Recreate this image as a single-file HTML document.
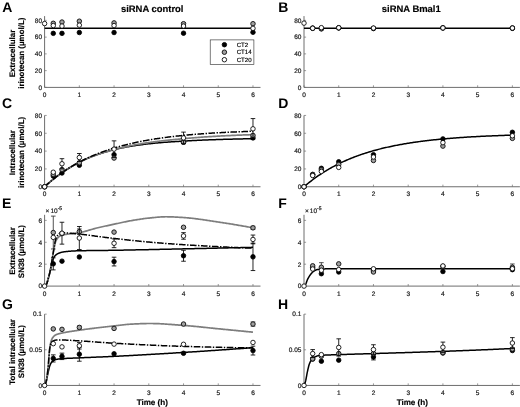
<!DOCTYPE html>
<html lang="en">
<head>
<meta charset="utf-8">
<title>Irinotecan pharmacokinetics figure</title>
<style>
html,body{margin:0;padding:0;background:#fff;}
body{width:520px;height:407px;overflow:hidden;}
svg{display:block;text-rendering:geometricPrecision;font-family:"Liberation Sans",sans-serif;}
.tk{font-size:6.5px;fill:#1a1a1a;stroke:#1a1a1a;stroke-width:0.2px;}
.lg{font-size:6.1px;fill:#000;stroke:#000;stroke-width:0.15px;}
.ti{font-size:9.45px;font-weight:bold;fill:#000;stroke:#000;stroke-width:0.15px;text-anchor:middle;}
.xl{font-size:8.1px;font-weight:bold;fill:#000;stroke:#000;stroke-width:0.15px;text-anchor:middle;}
.yl{font-size:7.95px;font-weight:bold;fill:#000;stroke:#000;stroke-width:0.15px;text-anchor:middle;}
.pl{font-size:14px;font-weight:bold;fill:#000;}
</style>
</head>
<body>
<svg width="520" height="407" viewBox="0 0 520 407">
<rect width="520" height="407" fill="#fff"/>
<path d="M44.6 16.1 V87.4 H260.5" fill="none" stroke="#6e6e6e" stroke-width="1"/>
<path d="M44.6 87.4v-2.1M79.33 87.4v-2.1M114.06 87.4v-2.1M148.79 87.4v-2.1M183.52 87.4v-2.1M218.25 87.4v-2.1M252.98 87.4v-2.1M44.6 87.4h2.1M44.6 70.64h2.1M44.6 53.89h2.1M44.6 37.13h2.1M44.6 20.37h2.1" fill="none" stroke="#6e6e6e" stroke-width="0.7"/>
<g class="tk" text-anchor="middle">
<text x="44.6" y="97">0</text>
<text x="79.33" y="97">1</text>
<text x="114.06" y="97">2</text>
<text x="148.79" y="97">3</text>
<text x="183.52" y="97">4</text>
<text x="218.25" y="97">5</text>
<text x="252.98" y="97">6</text>
</g>
<g class="tk" text-anchor="end">
<text x="42" y="89.7">0</text>
<text x="42" y="72.94">20</text>
<text x="42" y="56.19">40</text>
<text x="42" y="39.43">60</text>
<text x="42" y="22.67">80</text>
</g>
<polyline points="44.6,28.25 252.98,28.25" fill="none" stroke="#000" stroke-width="1.5" stroke-linejoin="round"/>
<g fill="#000" stroke="#000" stroke-width="0.85"><circle cx="53.28" cy="33.36" r="2.25"/><circle cx="61.97" cy="33.36" r="2.25"/><circle cx="79.33" cy="32.52" r="2.25"/><circle cx="114.06" cy="32.52" r="2.25"/><circle cx="183.52" cy="33.19" r="2.25"/><circle cx="252.98" cy="32.27" r="2.25"/></g>
<path d="M183.52 22.72V24.73M181.22 22.72h4.6M181.22 24.73h4.6" fill="none" stroke="#333" stroke-width="0.85"/>
<g fill="#a0a0a0" stroke="#1a1a1a" stroke-width="1"><circle cx="53.28" cy="23.31" r="2.25"/><circle cx="61.97" cy="22.05" r="2.25"/><circle cx="79.33" cy="21.21" r="2.25"/><circle cx="114.06" cy="22.89" r="2.25"/><circle cx="183.52" cy="23.72" r="2.25"/><circle cx="252.98" cy="23.72" r="2.25"/></g>
<path d="M183.52 24.81V27.33M181.22 24.81h4.6M181.22 27.33h4.6" fill="none" stroke="#000" stroke-width="0.85"/>
<g fill="#fff" stroke="#000" stroke-width="0.85"><circle cx="44.6" cy="23.56" r="2.25"/><circle cx="53.28" cy="25.57" r="2.25"/><circle cx="61.97" cy="26.07" r="2.25"/><circle cx="79.33" cy="25.15" r="2.25"/><circle cx="114.06" cy="25.57" r="2.25"/><circle cx="183.52" cy="26.07" r="2.25"/><circle cx="252.98" cy="28.33" r="2.25"/></g>
<path d="M304 16.1 V87.4 H519.9" fill="none" stroke="#6e6e6e" stroke-width="1"/>
<path d="M304 87.4v-2.1M338.73 87.4v-2.1M373.46 87.4v-2.1M408.19 87.4v-2.1M442.92 87.4v-2.1M477.65 87.4v-2.1M512.38 87.4v-2.1M304 87.4h2.1M304 70.64h2.1M304 53.89h2.1M304 37.13h2.1M304 20.37h2.1" fill="none" stroke="#6e6e6e" stroke-width="0.7"/>
<g class="tk" text-anchor="middle">
<text x="304" y="97">0</text>
<text x="338.73" y="97">1</text>
<text x="373.46" y="97">2</text>
<text x="408.19" y="97">3</text>
<text x="442.92" y="97">4</text>
<text x="477.65" y="97">5</text>
<text x="512.38" y="97">6</text>
</g>
<g class="tk" text-anchor="end">
<text x="301.4" y="89.7">0</text>
<text x="301.4" y="72.94">20</text>
<text x="301.4" y="56.19">40</text>
<text x="301.4" y="39.43">60</text>
<text x="301.4" y="22.67">80</text>
</g>
<polyline points="304,28.25 512.38,28.25" fill="none" stroke="#000" stroke-width="1.5" stroke-linejoin="round"/>
<g fill="#000" stroke="#000" stroke-width="0.85"><circle cx="312.68" cy="28.33" r="2.25"/><circle cx="321.37" cy="28.75" r="2.25"/><circle cx="338.73" cy="27.91" r="2.25"/><circle cx="373.46" cy="28.33" r="2.25"/><circle cx="442.92" cy="27.91" r="2.25"/><circle cx="512.38" cy="28.33" r="2.25"/></g>
<path d="M512.38 26.91V28.92M510.08 26.91h4.6M510.08 28.92h4.6" fill="none" stroke="#333" stroke-width="0.85"/>
<g fill="#a0a0a0" stroke="#1a1a1a" stroke-width="1"><circle cx="312.68" cy="28.08" r="2.25"/><circle cx="321.37" cy="28.75" r="2.25"/><circle cx="338.73" cy="27.75" r="2.25"/><circle cx="373.46" cy="28.5" r="2.25"/><circle cx="442.92" cy="27.91" r="2.25"/><circle cx="512.38" cy="27.91" r="2.25"/></g>
<path d="M512.38 26.82V29.34M510.08 26.82h4.6M510.08 29.34h4.6" fill="none" stroke="#000" stroke-width="0.85"/>
<g fill="#fff" stroke="#000" stroke-width="0.85"><circle cx="304" cy="23.14" r="2.25"/><circle cx="312.68" cy="28.25" r="2.25"/><circle cx="321.37" cy="27.66" r="2.25"/><circle cx="338.73" cy="27.75" r="2.25"/><circle cx="373.46" cy="28.08" r="2.25"/><circle cx="442.92" cy="27.91" r="2.25"/><circle cx="512.38" cy="28.08" r="2.25"/></g>
<path d="M44.6 115.45 V186.75 H260.5" fill="none" stroke="#6e6e6e" stroke-width="1"/>
<path d="M44.6 186.75v-2.1M79.33 186.75v-2.1M114.06 186.75v-2.1M148.79 186.75v-2.1M183.52 186.75v-2.1M218.25 186.75v-2.1M252.98 186.75v-2.1M44.6 186.75h2.1M44.6 168.93h2.1M44.6 151.1h2.1M44.6 133.27h2.1M44.6 115.45h2.1" fill="none" stroke="#6e6e6e" stroke-width="0.7"/>
<g class="tk" text-anchor="middle">
<text x="44.6" y="196.35">0</text>
<text x="79.33" y="196.35">1</text>
<text x="114.06" y="196.35">2</text>
<text x="148.79" y="196.35">3</text>
<text x="183.52" y="196.35">4</text>
<text x="218.25" y="196.35">5</text>
<text x="252.98" y="196.35">6</text>
</g>
<g class="tk" text-anchor="end">
<text x="42" y="189.05">0</text>
<text x="42" y="171.23">20</text>
<text x="42" y="153.4">40</text>
<text x="42" y="135.57">60</text>
<text x="42" y="117.75">80</text>
</g>
<polyline points="44.6,186.75 45.65,185.79 46.69,184.84 47.74,183.91 48.79,183 49.84,182.1 50.88,181.22 51.93,180.35 52.98,179.5 54.02,178.66 55.07,177.84 56.12,177.03 57.17,176.23 58.21,175.45 59.26,174.68 60.31,173.93 61.35,173.19 62.4,172.46 63.45,171.74 64.5,171.04 65.54,170.35 66.59,169.67 67.64,169 68.68,168.34 69.73,167.7 70.78,167.06 71.83,166.44 72.87,165.83 73.92,165.23 74.97,164.63 76.01,164.05 77.06,163.48 78.11,162.92 79.16,162.37 80.2,161.83 81.25,161.3 82.3,160.79 83.34,160.28 84.39,159.79 85.44,159.32 86.49,158.85 87.53,158.39 88.58,157.95 89.63,157.51 90.67,157.09 91.72,156.67 92.77,156.27 93.82,155.88 94.86,155.49 95.91,155.11 96.96,154.74 98,154.38 99.05,154.03 100.1,153.69 101.15,153.35 102.19,153.02 103.24,152.7 104.29,152.38 105.33,152.07 106.38,151.77 107.43,151.47 108.48,151.18 109.52,150.9 110.57,150.62 111.62,150.34 112.66,150.07 113.71,149.8 114.76,149.54 115.81,149.28 116.85,149.04 117.9,148.79 118.95,148.56 119.99,148.33 121.04,148.11 122.09,147.89 123.14,147.67 124.18,147.47 125.23,147.27 126.28,147.07 127.32,146.88 128.37,146.69 129.42,146.51 130.47,146.33 131.51,146.16 132.56,145.99 133.61,145.83 134.65,145.67 135.7,145.51 136.75,145.36 137.8,145.21 138.84,145.06 139.89,144.92 140.94,144.78 141.98,144.64 143.03,144.51 144.08,144.37 145.13,144.25 146.17,144.12 147.22,143.99 148.27,143.87 149.31,143.75 150.36,143.63 151.41,143.52 152.45,143.41 153.5,143.3 154.55,143.2 155.6,143.1 156.64,143 157.69,142.9 158.74,142.81 159.78,142.72 160.83,142.63 161.88,142.54 162.93,142.46 163.97,142.37 165.02,142.29 166.07,142.22 167.11,142.14 168.16,142.06 169.21,141.99 170.26,141.92 171.3,141.85 172.35,141.78 173.4,141.71 174.44,141.64 175.49,141.58 176.54,141.51 177.59,141.45 178.63,141.38 179.68,141.32 180.73,141.26 181.77,141.19 182.82,141.13 183.87,141.07 184.92,141.01 185.96,140.95 187.01,140.89 188.06,140.83 189.1,140.77 190.15,140.72 191.2,140.66 192.25,140.61 193.29,140.56 194.34,140.5 195.39,140.45 196.43,140.4 197.48,140.35 198.53,140.31 199.58,140.26 200.62,140.21 201.67,140.17 202.72,140.12 203.76,140.08 204.81,140.03 205.86,139.99 206.91,139.95 207.95,139.91 209,139.87 210.05,139.83 211.09,139.79 212.14,139.75 213.19,139.71 214.24,139.67 215.28,139.64 216.33,139.6 217.38,139.56 218.42,139.53 219.47,139.49 220.52,139.46 221.57,139.43 222.61,139.39 223.66,139.36 224.71,139.33 225.75,139.3 226.8,139.27 227.85,139.24 228.9,139.21 229.94,139.18 230.99,139.16 232.04,139.13 233.08,139.1 234.13,139.08 235.18,139.05 236.23,139.03 237.27,139 238.32,138.98 239.37,138.95 240.41,138.93 241.46,138.9 242.51,138.88 243.56,138.86 244.6,138.84 245.65,138.81 246.7,138.79 247.74,138.77 248.79,138.75 249.84,138.72 250.89,138.7 251.93,138.68 252.98,138.66" fill="none" stroke="#000" stroke-width="1.5" stroke-linejoin="round"/>
<polyline points="44.6,186.75 45.65,185.79 46.69,184.84 47.74,183.91 48.79,183 49.84,182.1 50.88,181.22 51.93,180.35 52.98,179.5 54.02,178.66 55.07,177.83 56.12,177.02 57.17,176.23 58.21,175.44 59.26,174.67 60.31,173.92 61.35,173.18 62.4,172.44 63.45,171.73 64.5,171.02 65.54,170.33 66.59,169.65 67.64,168.98 68.68,168.32 69.73,167.67 70.78,167.03 71.83,166.41 72.87,165.8 73.92,165.19 74.97,164.6 76.01,164.02 77.06,163.44 78.11,162.88 79.16,162.33 80.2,161.78 81.25,161.25 82.3,160.74 83.34,160.24 84.39,159.74 85.44,159.27 86.49,158.8 87.53,158.34 88.58,157.9 89.63,157.46 90.67,157.04 91.72,156.63 92.77,156.22 93.82,155.83 94.86,155.44 95.91,155.06 96.96,154.69 98,154.33 99.05,153.98 100.1,153.63 101.15,153.29 102.19,152.96 103.24,152.63 104.29,152.31 105.33,151.99 106.38,151.68 107.43,151.38 108.48,151.08 109.52,150.78 110.57,150.49 111.62,150.2 112.66,149.91 113.71,149.63 114.76,149.35 115.81,149.08 116.85,148.81 117.9,148.54 118.95,148.28 119.99,148.03 121.04,147.78 122.09,147.53 123.14,147.29 124.18,147.06 125.23,146.82 126.28,146.6 127.32,146.37 128.37,146.15 129.42,145.94 130.47,145.72 131.51,145.52 132.56,145.31 133.61,145.11 134.65,144.91 135.7,144.72 136.75,144.53 137.8,144.34 138.84,144.16 139.89,143.98 140.94,143.8 141.98,143.63 143.03,143.46 144.08,143.29 145.13,143.12 146.17,142.96 147.22,142.8 148.27,142.64 149.31,142.49 150.36,142.33 151.41,142.19 152.45,142.04 153.5,141.9 154.55,141.76 155.6,141.63 156.64,141.49 157.69,141.36 158.74,141.24 159.78,141.11 160.83,140.99 161.88,140.87 162.93,140.75 163.97,140.63 165.02,140.52 166.07,140.41 167.11,140.3 168.16,140.19 169.21,140.08 170.26,139.97 171.3,139.87 172.35,139.76 173.4,139.66 174.44,139.56 175.49,139.45 176.54,139.35 177.59,139.25 178.63,139.15 179.68,139.05 180.73,138.95 181.77,138.85 182.82,138.75 183.87,138.65 184.92,138.55 185.96,138.45 187.01,138.36 188.06,138.26 189.1,138.17 190.15,138.08 191.2,137.99 192.25,137.9 193.29,137.81 194.34,137.73 195.39,137.64 196.43,137.56 197.48,137.48 198.53,137.4 199.58,137.32 200.62,137.25 201.67,137.17 202.72,137.1 203.76,137.02 204.81,136.95 205.86,136.88 206.91,136.81 207.95,136.74 209,136.67 210.05,136.61 211.09,136.54 212.14,136.48 213.19,136.42 214.24,136.35 215.28,136.29 216.33,136.23 217.38,136.17 218.42,136.12 219.47,136.06 220.52,136 221.57,135.95 222.61,135.89 223.66,135.84 224.71,135.79 225.75,135.74 226.8,135.68 227.85,135.63 228.9,135.59 229.94,135.54 230.99,135.49 232.04,135.44 233.08,135.4 234.13,135.35 235.18,135.31 236.23,135.26 237.27,135.22 238.32,135.18 239.37,135.13 240.41,135.09 241.46,135.05 242.51,135.01 243.56,134.97 244.6,134.94 245.65,134.9 246.7,134.86 247.74,134.82 248.79,134.79 249.84,134.75 250.89,134.72 251.93,134.68 252.98,134.65" fill="none" stroke="#7d7d7d" stroke-width="1.7" stroke-linejoin="round"/>
<polyline points="44.6,186.75 45.65,185.79 46.69,184.84 47.74,183.91 48.79,183 49.84,182.1 50.88,181.21 51.93,180.34 52.98,179.49 54.02,178.65 55.07,177.82 56.12,177.01 57.17,176.21 58.21,175.42 59.26,174.65 60.31,173.89 61.35,173.14 62.4,172.41 63.45,171.68 64.5,170.97 65.54,170.28 66.59,169.59 67.64,168.91 68.68,168.25 69.73,167.6 70.78,166.96 71.83,166.32 72.87,165.7 73.92,165.09 74.97,164.49 76.01,163.9 77.06,163.32 78.11,162.75 79.16,162.19 80.2,161.64 81.25,161.1 82.3,160.57 83.34,160.04 84.39,159.53 85.44,159.02 86.49,158.52 87.53,158.03 88.58,157.55 89.63,157.08 90.67,156.61 91.72,156.15 92.77,155.7 93.82,155.26 94.86,154.83 95.91,154.4 96.96,153.98 98,153.56 99.05,153.16 100.1,152.76 101.15,152.36 102.19,151.98 103.24,151.6 104.29,151.22 105.33,150.85 106.38,150.49 107.43,150.14 108.48,149.79 109.52,149.44 110.57,149.11 111.62,148.77 112.66,148.45 113.71,148.13 114.76,147.81 115.81,147.5 116.85,147.19 117.9,146.89 118.95,146.6 119.99,146.31 121.04,146.02 122.09,145.74 123.14,145.47 124.18,145.2 125.23,144.93 126.28,144.67 127.32,144.41 128.37,144.16 129.42,143.91 130.47,143.66 131.51,143.42 132.56,143.18 133.61,142.95 134.65,142.72 135.7,142.5 136.75,142.27 137.8,142.06 138.84,141.84 139.89,141.63 140.94,141.42 141.98,141.22 143.03,141.02 144.08,140.82 145.13,140.63 146.17,140.44 147.22,140.25 148.27,140.07 149.31,139.89 150.36,139.71 151.41,139.54 152.45,139.36 153.5,139.19 154.55,139.03 155.6,138.86 156.64,138.7 157.69,138.55 158.74,138.39 159.78,138.24 160.83,138.09 161.88,137.94 162.93,137.79 163.97,137.65 165.02,137.51 166.07,137.37 167.11,137.24 168.16,137.1 169.21,136.97 170.26,136.84 171.3,136.72 172.35,136.59 173.4,136.47 174.44,136.35 175.49,136.23 176.54,136.11 177.59,136 178.63,135.89 179.68,135.78 180.73,135.67 181.77,135.56 182.82,135.45 183.87,135.35 184.92,135.25 185.96,135.15 187.01,135.05 188.06,134.95 189.1,134.86 190.15,134.76 191.2,134.67 192.25,134.58 193.29,134.49 194.34,134.4 195.39,134.32 196.43,134.23 197.48,134.15 198.53,134.07 199.58,133.99 200.62,133.91 201.67,133.83 202.72,133.75 203.76,133.68 204.81,133.61 205.86,133.53 206.91,133.46 207.95,133.39 209,133.32 210.05,133.25 211.09,133.19 212.14,133.12 213.19,133.06 214.24,132.99 215.28,132.93 216.33,132.87 217.38,132.81 218.42,132.75 219.47,132.69 220.52,132.63 221.57,132.58 222.61,132.52 223.66,132.47 224.71,132.41 225.75,132.36 226.8,132.31 227.85,132.26 228.9,132.21 229.94,132.16 230.99,132.11 232.04,132.06 233.08,132.02 234.13,131.97 235.18,131.93 236.23,131.88 237.27,131.84 238.32,131.79 239.37,131.75 240.41,131.71 241.46,131.67 242.51,131.63 243.56,131.59 244.6,131.55 245.65,131.51 246.7,131.47 247.74,131.44 248.79,131.4 249.84,131.36 250.89,131.33 251.93,131.3 252.98,131.26" fill="none" stroke="#000" stroke-width="1.5" stroke-linejoin="round" stroke-dasharray="6.6 1.5 1.4 1.5"/>
<g fill="#000" stroke="#000" stroke-width="0.85"><circle cx="44.6" cy="186.75" r="2.25"/><circle cx="53.28" cy="175.97" r="2.25"/><circle cx="61.97" cy="173.02" r="2.25"/><circle cx="79.33" cy="165.27" r="2.25"/><circle cx="114.06" cy="154.66" r="2.25"/><circle cx="183.52" cy="142.19" r="2.25"/><circle cx="252.98" cy="137.91" r="2.25"/></g>
<g fill="#a0a0a0" stroke="#1a1a1a" stroke-width="1"><circle cx="44.6" cy="186.75" r="2.25"/><circle cx="53.28" cy="174.45" r="2.25"/><circle cx="61.97" cy="169.55" r="2.25"/><circle cx="79.33" cy="162.78" r="2.25"/><circle cx="114.06" cy="158.05" r="2.25"/><circle cx="183.52" cy="142.19" r="2.25"/><circle cx="252.98" cy="135.41" r="2.25"/></g>
<path d="M61.97 158.68V168.84M59.67 158.68h4.6M59.67 168.84h4.6M79.33 153.51V161.53M77.03 153.51h4.6M77.03 161.53h4.6M114.06 140.85V157.43M111.76 140.85h4.6M111.76 157.43h4.6M183.52 132.12V143.7M181.22 132.12h4.6M181.22 143.7h4.6M252.98 118.57V139.07M250.68 118.57h4.6M250.68 139.07h4.6" fill="none" stroke="#000" stroke-width="0.85"/>
<g fill="#fff" stroke="#000" stroke-width="0.85"><circle cx="44.6" cy="186.75" r="2.25"/><circle cx="53.28" cy="172.22" r="2.25"/><circle cx="61.97" cy="163.76" r="2.25"/><circle cx="79.33" cy="157.52" r="2.25"/><circle cx="114.06" cy="149.14" r="2.25"/><circle cx="183.52" cy="137.91" r="2.25"/><circle cx="252.98" cy="128.82" r="2.25"/></g>
<path d="M304 115.45 V186.75 H519.9" fill="none" stroke="#6e6e6e" stroke-width="1"/>
<path d="M304 186.75v-2.1M338.73 186.75v-2.1M373.46 186.75v-2.1M408.19 186.75v-2.1M442.92 186.75v-2.1M477.65 186.75v-2.1M512.38 186.75v-2.1M304 186.75h2.1M304 168.93h2.1M304 151.1h2.1M304 133.27h2.1M304 115.45h2.1" fill="none" stroke="#6e6e6e" stroke-width="0.7"/>
<g class="tk" text-anchor="middle">
<text x="304" y="196.35">0</text>
<text x="338.73" y="196.35">1</text>
<text x="373.46" y="196.35">2</text>
<text x="408.19" y="196.35">3</text>
<text x="442.92" y="196.35">4</text>
<text x="477.65" y="196.35">5</text>
<text x="512.38" y="196.35">6</text>
</g>
<g class="tk" text-anchor="end">
<text x="301.4" y="189.05">0</text>
<text x="301.4" y="171.23">20</text>
<text x="301.4" y="153.4">40</text>
<text x="301.4" y="135.57">60</text>
<text x="301.4" y="117.75">80</text>
</g>
<polyline points="304,186.75 305.05,185.85 306.09,184.97 307.14,184.11 308.19,183.26 309.24,182.42 310.28,181.6 311.33,180.79 312.38,179.99 313.42,179.21 314.47,178.44 315.52,177.69 316.57,176.94 317.61,176.21 318.66,175.49 319.71,174.79 320.75,174.09 321.8,173.41 322.85,172.74 323.9,172.07 324.94,171.43 325.99,170.79 327.04,170.16 328.08,169.54 329.13,168.93 330.18,168.34 331.23,167.75 332.27,167.17 333.32,166.6 334.37,166.05 335.41,165.5 336.46,164.96 337.51,164.43 338.56,163.91 339.6,163.39 340.65,162.89 341.7,162.39 342.74,161.91 343.79,161.43 344.84,160.96 345.89,160.49 346.93,160.04 347.98,159.59 349.03,159.15 350.07,158.71 351.12,158.29 352.17,157.87 353.22,157.46 354.26,157.05 355.31,156.65 356.36,156.26 357.4,155.88 358.45,155.5 359.5,155.13 360.55,154.76 361.59,154.4 362.64,154.05 363.69,153.7 364.73,153.36 365.78,153.02 366.83,152.69 367.88,152.37 368.92,152.05 369.97,151.73 371.02,151.42 372.06,151.12 373.11,150.82 374.16,150.53 375.21,150.24 376.25,149.95 377.3,149.68 378.35,149.4 379.39,149.13 380.44,148.87 381.49,148.6 382.54,148.35 383.58,148.1 384.63,147.85 385.68,147.6 386.72,147.36 387.77,147.13 388.82,146.9 389.87,146.67 390.91,146.44 391.96,146.22 393.01,146.01 394.05,145.79 395.1,145.58 396.15,145.38 397.2,145.17 398.24,144.98 399.29,144.78 400.34,144.59 401.38,144.4 402.43,144.21 403.48,144.03 404.53,143.85 405.57,143.67 406.62,143.5 407.67,143.33 408.71,143.16 409.76,142.99 410.81,142.83 411.85,142.67 412.9,142.51 413.95,142.36 415,142.21 416.04,142.06 417.09,141.91 418.14,141.76 419.18,141.62 420.23,141.48 421.28,141.35 422.33,141.21 423.37,141.08 424.42,140.95 425.47,140.82 426.51,140.69 427.56,140.57 428.61,140.45 429.66,140.33 430.7,140.21 431.75,140.09 432.8,139.98 433.84,139.86 434.89,139.75 435.94,139.65 436.99,139.54 438.03,139.43 439.08,139.33 440.13,139.23 441.17,139.13 442.22,139.03 443.27,138.94 444.32,138.84 445.36,138.75 446.41,138.66 447.46,138.57 448.5,138.48 449.55,138.39 450.6,138.3 451.65,138.22 452.69,138.14 453.74,138.06 454.79,137.98 455.83,137.9 456.88,137.82 457.93,137.74 458.98,137.67 460.02,137.6 461.07,137.52 462.12,137.45 463.16,137.38 464.21,137.31 465.26,137.25 466.31,137.18 467.35,137.11 468.4,137.05 469.45,136.99 470.49,136.92 471.54,136.86 472.59,136.8 473.64,136.74 474.68,136.69 475.73,136.63 476.78,136.57 477.82,136.52 478.87,136.46 479.92,136.41 480.97,136.36 482.01,136.31 483.06,136.26 484.11,136.21 485.15,136.16 486.2,136.11 487.25,136.06 488.3,136.01 489.34,135.97 490.39,135.92 491.44,135.88 492.48,135.84 493.53,135.79 494.58,135.75 495.63,135.71 496.67,135.67 497.72,135.63 498.77,135.59 499.81,135.55 500.86,135.51 501.91,135.47 502.96,135.44 504,135.4 505.05,135.37 506.1,135.33 507.14,135.3 508.19,135.26 509.24,135.23 510.29,135.2 511.33,135.16 512.38,135.13" fill="none" stroke="#000" stroke-width="1.5" stroke-linejoin="round"/>
<g fill="#000" stroke="#000" stroke-width="0.85"><circle cx="304" cy="186.75" r="2.25"/><circle cx="312.68" cy="174.36" r="2.25"/><circle cx="321.37" cy="168.3" r="2.25"/><circle cx="338.73" cy="161.79" r="2.25"/><circle cx="373.46" cy="154.75" r="2.25"/><circle cx="442.92" cy="138.89" r="2.25"/><circle cx="512.38" cy="132.29" r="2.25"/></g>
<g fill="#a0a0a0" stroke="#1a1a1a" stroke-width="1"><circle cx="304" cy="186.75" r="2.25"/><circle cx="312.68" cy="174.72" r="2.25"/><circle cx="321.37" cy="169.82" r="2.25"/><circle cx="338.73" cy="164.47" r="2.25"/><circle cx="373.46" cy="160.46" r="2.25"/><circle cx="442.92" cy="146.11" r="2.25"/><circle cx="512.38" cy="138.36" r="2.25"/></g>
<g fill="#fff" stroke="#000" stroke-width="0.85"><circle cx="304" cy="186.75" r="2.25"/><circle cx="312.68" cy="175.52" r="2.25"/><circle cx="321.37" cy="171.42" r="2.25"/><circle cx="338.73" cy="167.41" r="2.25"/><circle cx="373.46" cy="156.98" r="2.25"/><circle cx="442.92" cy="142.63" r="2.25"/><circle cx="512.38" cy="135.77" r="2.25"/></g>
<path d="M44.6 214.8 V286.1 H260.5" fill="none" stroke="#6e6e6e" stroke-width="1"/>
<path d="M44.6 286.1v-2.1M79.33 286.1v-2.1M114.06 286.1v-2.1M148.79 286.1v-2.1M183.52 286.1v-2.1M218.25 286.1v-2.1M252.98 286.1v-2.1M44.6 286.1h2.1M44.6 264.2h2.1M44.6 242.29h2.1M44.6 220.39h2.1" fill="none" stroke="#6e6e6e" stroke-width="0.7"/>
<g class="tk" text-anchor="middle">
<text x="44.6" y="295.7">0</text>
<text x="79.33" y="295.7">1</text>
<text x="114.06" y="295.7">2</text>
<text x="148.79" y="295.7">3</text>
<text x="183.52" y="295.7">4</text>
<text x="218.25" y="295.7">5</text>
<text x="252.98" y="295.7">6</text>
</g>
<g class="tk" text-anchor="end">
<text x="42" y="288.4">0</text>
<text x="42" y="266.5">2</text>
<text x="42" y="244.59">4</text>
<text x="42" y="222.69">6</text>
</g>
<polyline points="44.6,286.1 44.89,286.03 45.18,285.85 45.48,285.58 45.77,285.24 46.06,284.85 46.35,284.44 46.64,283.9 46.93,283.16 47.23,282.28 47.52,281.28 47.81,280.23 48.1,279.15 48.39,278.09 48.69,277.05 48.98,275.97 49.27,274.84 49.56,273.66 49.85,272.42 50.15,271.1 50.44,269.64 50.73,267.93 51.02,266.22 51.31,264.74 51.6,263.36 51.9,262.14 52.19,261.21 52.48,260.42 52.77,259.68 53.06,259 53.36,258.37 53.65,257.8 53.94,257.28 54.23,256.82 54.52,256.41 54.81,256.05 55.11,255.74 55.4,255.45 55.69,255.17 55.98,254.92 56.27,254.68 56.57,254.45 56.86,254.24 57.15,254.05 57.44,253.87 57.73,253.71 58.03,253.56 58.32,253.43 58.61,253.3 58.9,253.19 59.19,253.07 59.48,252.97 59.78,252.86 60.07,252.76 60.36,252.66 60.65,252.57 60.94,252.48 61.24,252.4 61.53,252.32 61.82,252.24 62.11,252.17 62.4,252.11 62.69,252.05 62.99,251.99 63.28,251.94 63.57,251.89 63.86,251.84 64.15,251.81 64.45,251.77 64.74,251.73 65.03,251.7 65.32,251.66 65.61,251.63 65.9,251.59 66.2,251.56 66.49,251.53 66.78,251.5 67.07,251.47 67.36,251.44 67.66,251.41 67.95,251.38 68.24,251.35 68.53,251.32 68.82,251.3 69.12,251.27 69.41,251.25 69.7,251.22 69.99,251.2 70.28,251.18 70.57,251.15 70.87,251.13 71.16,251.11 71.45,251.09 71.74,251.07 72.03,251.05 72.33,251.04 72.62,251.02 72.91,251 73.2,250.99 73.49,250.97 73.78,250.95 74.08,250.94 74.37,250.93 74.66,250.91 74.95,250.9 75.24,250.89 75.54,250.88 75.83,250.87 76.12,250.86 76.41,250.85 76.7,250.84 77,250.83 77.29,250.82 77.58,250.81 77.87,250.81 78.16,250.8 78.45,250.79 78.75,250.78 79.04,250.78 79.33,250.77 80.42,250.74 81.51,250.72 82.61,250.7 83.7,250.68 84.79,250.66 85.88,250.64 86.97,250.62 88.07,250.6 89.16,250.59 90.25,250.57 91.34,250.56 92.44,250.54 93.53,250.53 94.62,250.52 95.71,250.51 96.8,250.49 97.9,250.48 98.99,250.47 100.08,250.46 101.17,250.45 102.26,250.44 103.36,250.43 104.45,250.41 105.54,250.4 106.63,250.39 107.73,250.38 108.82,250.36 109.91,250.35 111,250.33 112.09,250.32 113.19,250.3 114.28,250.28 115.37,250.26 116.46,250.24 117.55,250.23 118.65,250.21 119.74,250.19 120.83,250.17 121.92,250.15 123.02,250.13 124.11,250.11 125.2,250.09 126.29,250.07 127.38,250.05 128.48,250.02 129.57,250 130.66,249.98 131.75,249.96 132.84,249.94 133.94,249.92 135.03,249.9 136.12,249.87 137.21,249.85 138.31,249.83 139.4,249.81 140.49,249.79 141.58,249.76 142.67,249.74 143.77,249.72 144.86,249.69 145.95,249.67 147.04,249.65 148.13,249.63 149.23,249.6 150.32,249.58 151.41,249.56 152.5,249.53 153.6,249.51 154.69,249.49 155.78,249.46 156.87,249.44 157.96,249.42 159.06,249.39 160.15,249.37 161.24,249.34 162.33,249.32 163.42,249.3 164.52,249.27 165.61,249.25 166.7,249.23 167.79,249.2 168.89,249.18 169.98,249.15 171.07,249.13 172.16,249.11 173.25,249.08 174.35,249.06 175.44,249.04 176.53,249.01 177.62,248.99 178.71,248.96 179.81,248.94 180.9,248.92 181.99,248.89 183.08,248.87 184.18,248.85 185.27,248.82 186.36,248.8 187.45,248.78 188.54,248.75 189.64,248.73 190.73,248.71 191.82,248.68 192.91,248.66 194,248.64 195.1,248.61 196.19,248.59 197.28,248.57 198.37,248.54 199.47,248.52 200.56,248.5 201.65,248.47 202.74,248.45 203.83,248.43 204.93,248.4 206.02,248.38 207.11,248.35 208.2,248.33 209.29,248.31 210.39,248.28 211.48,248.26 212.57,248.23 213.66,248.21 214.76,248.19 215.85,248.16 216.94,248.14 218.03,248.11 219.12,248.09 220.22,248.07 221.31,248.04 222.4,248.02 223.49,247.99 224.58,247.97 225.68,247.94 226.77,247.92 227.86,247.9 228.95,247.87 230.05,247.85 231.14,247.82 232.23,247.8 233.32,247.77 234.41,247.75 235.51,247.72 236.6,247.7 237.69,247.68 238.78,247.65 239.87,247.63 240.97,247.6 242.06,247.58 243.15,247.55 244.24,247.53 245.34,247.5 246.43,247.48 247.52,247.45 248.61,247.43 249.7,247.4 250.8,247.38 251.89,247.35 252.98,247.33" fill="none" stroke="#000" stroke-width="1.5" stroke-linejoin="round"/>
<polyline points="44.6,286.1 44.89,286.03 45.18,285.85 45.48,285.58 45.77,285.24 46.06,284.85 46.35,284.44 46.64,283.9 46.93,283.16 47.23,282.28 47.52,281.28 47.81,280.23 48.1,279.15 48.39,278.09 48.69,277.05 48.98,275.97 49.27,274.84 49.56,273.66 49.85,272.42 50.15,271.1 50.44,269.66 50.73,268.05 51.02,266.34 51.31,264.62 51.6,262.85 51.9,261.06 52.19,259.3 52.48,257.52 52.77,255.72 53.06,253.95 53.36,252.22 53.65,250.57 53.94,249.05 54.23,247.59 54.52,246.13 54.81,244.71 55.11,243.4 55.4,242.28 55.69,241.41 55.98,240.78 56.27,240.21 56.57,239.68 56.86,239.19 57.15,238.73 57.44,238.32 57.73,237.94 58.03,237.59 58.32,237.28 58.61,236.99 58.9,236.73 59.19,236.5 59.48,236.3 59.78,236.11 60.07,235.94 60.36,235.79 60.65,235.65 60.94,235.52 61.24,235.4 61.53,235.3 61.82,235.21 62.11,235.13 62.4,235.06 62.69,234.99 62.99,234.92 63.28,234.86 63.57,234.8 63.86,234.74 64.15,234.68 64.45,234.63 64.74,234.58 65.03,234.53 65.32,234.48 65.61,234.43 65.9,234.39 66.2,234.34 66.49,234.3 66.78,234.26 67.07,234.22 67.36,234.18 67.66,234.14 67.95,234.11 68.24,234.07 68.53,234.03 68.82,233.99 69.12,233.95 69.41,233.92 69.7,233.88 69.99,233.84 70.28,233.8 70.57,233.76 70.87,233.72 71.16,233.68 71.45,233.64 71.74,233.6 72.03,233.56 72.33,233.53 72.62,233.49 72.91,233.46 73.2,233.42 73.49,233.39 73.78,233.36 74.08,233.33 74.37,233.29 74.66,233.26 74.95,233.23 75.24,233.19 75.54,233.16 75.83,233.13 76.12,233.09 76.41,233.06 76.7,233.02 77,232.99 77.29,232.95 77.58,232.91 77.87,232.87 78.16,232.83 78.45,232.79 78.75,232.74 79.04,232.7 79.33,232.65 80.42,232.46 81.51,232.24 82.61,231.99 83.7,231.72 84.79,231.44 85.88,231.13 86.97,230.82 88.07,230.5 89.16,230.18 90.25,229.85 91.34,229.52 92.44,229.2 93.53,228.89 94.62,228.59 95.71,228.3 96.8,228.03 97.9,227.77 98.99,227.51 100.08,227.26 101.17,227.01 102.26,226.76 103.36,226.52 104.45,226.28 105.54,226.04 106.63,225.81 107.73,225.57 108.82,225.34 109.91,225.1 111,224.87 112.09,224.64 113.19,224.41 114.28,224.17 115.37,223.94 116.46,223.7 117.55,223.46 118.65,223.22 119.74,222.97 120.83,222.73 121.92,222.5 123.02,222.26 124.11,222.03 125.2,221.8 126.29,221.57 127.38,221.35 128.48,221.14 129.57,220.94 130.66,220.74 131.75,220.55 132.84,220.36 133.94,220.18 135.03,220 136.12,219.82 137.21,219.64 138.31,219.47 139.4,219.3 140.49,219.13 141.58,218.97 142.67,218.82 143.77,218.67 144.86,218.53 145.95,218.4 147.04,218.27 148.13,218.15 149.23,218.04 150.32,217.93 151.41,217.82 152.5,217.7 153.6,217.59 154.69,217.48 155.78,217.37 156.87,217.27 157.96,217.17 159.06,217.08 160.15,217 161.24,216.93 162.33,216.87 163.42,216.82 164.52,216.79 165.61,216.77 166.7,216.77 167.79,216.78 168.89,216.8 169.98,216.83 171.07,216.86 172.16,216.9 173.25,216.94 174.35,216.99 175.44,217.05 176.53,217.11 177.62,217.17 178.71,217.24 179.81,217.3 180.9,217.37 181.99,217.44 183.08,217.51 184.18,217.58 185.27,217.66 186.36,217.74 187.45,217.83 188.54,217.93 189.64,218.04 190.73,218.15 191.82,218.26 192.91,218.39 194,218.52 195.1,218.65 196.19,218.79 197.28,218.93 198.37,219.07 199.47,219.22 200.56,219.37 201.65,219.53 202.74,219.69 203.83,219.85 204.93,220.01 206.02,220.18 207.11,220.34 208.2,220.51 209.29,220.67 210.39,220.84 211.48,221.01 212.57,221.18 213.66,221.34 214.76,221.51 215.85,221.67 216.94,221.84 218.03,222 219.12,222.16 220.22,222.32 221.31,222.48 222.4,222.65 223.49,222.81 224.58,222.98 225.68,223.15 226.77,223.32 227.86,223.49 228.95,223.66 230.05,223.84 231.14,224.02 232.23,224.19 233.32,224.37 234.41,224.56 235.51,224.74 236.6,224.92 237.69,225.11 238.78,225.29 239.87,225.48 240.97,225.67 242.06,225.86 243.15,226.05 244.24,226.25 245.34,226.44 246.43,226.64 247.52,226.83 248.61,227.03 249.7,227.23 250.8,227.43 251.89,227.63 252.98,227.83" fill="none" stroke="#7d7d7d" stroke-width="1.7" stroke-linejoin="round"/>
<polyline points="44.6,286.1 44.89,286.03 45.18,285.85 45.48,285.58 45.77,285.24 46.06,284.85 46.35,284.44 46.64,283.9 46.93,283.16 47.23,282.28 47.52,281.28 47.81,280.23 48.1,279.15 48.39,278.09 48.69,277.05 48.98,275.97 49.27,274.84 49.56,273.66 49.85,272.42 50.15,271.1 50.44,269.66 50.73,268.05 51.02,266.34 51.31,264.62 51.6,262.86 51.9,261.07 52.19,259.29 52.48,257.47 52.77,255.63 53.06,253.8 53.36,251.98 53.65,250.22 53.94,248.53 54.23,246.84 54.52,245.07 54.81,243.33 55.11,241.71 55.4,240.32 55.69,239.26 55.98,238.52 56.27,237.85 56.57,237.22 56.86,236.64 57.15,236.1 57.44,235.6 57.73,235.15 58.03,234.74 58.32,234.38 58.61,234.08 58.9,233.81 59.19,233.6 59.48,233.44 59.78,233.32 60.07,233.2 60.36,233.09 60.65,232.99 60.94,232.9 61.24,232.84 61.53,232.79 61.82,232.77 62.11,232.76 62.4,232.76 62.69,232.77 62.99,232.78 63.28,232.78 63.57,232.79 63.86,232.81 64.15,232.82 64.45,232.83 64.74,232.85 65.03,232.87 65.32,232.89 65.61,232.91 65.9,232.93 66.2,232.95 66.49,232.97 66.78,232.99 67.07,233.02 67.36,233.04 67.66,233.06 67.95,233.09 68.24,233.11 68.53,233.14 68.82,233.16 69.12,233.19 69.41,233.21 69.7,233.24 69.99,233.26 70.28,233.28 70.57,233.3 70.87,233.33 71.16,233.35 71.45,233.37 71.74,233.39 72.03,233.41 72.33,233.44 72.62,233.46 72.91,233.49 73.2,233.51 73.49,233.53 73.78,233.56 74.08,233.58 74.37,233.61 74.66,233.63 74.95,233.66 75.24,233.68 75.54,233.71 75.83,233.74 76.12,233.76 76.41,233.79 76.7,233.82 77,233.85 77.29,233.87 77.58,233.9 77.87,233.93 78.16,233.96 78.45,233.99 78.75,234.02 79.04,234.05 79.33,234.08 80.42,234.19 81.51,234.31 82.61,234.44 83.7,234.57 84.79,234.7 85.88,234.84 86.97,234.98 88.07,235.13 89.16,235.27 90.25,235.42 91.34,235.56 92.44,235.71 93.53,235.86 94.62,236 95.71,236.14 96.8,236.28 97.9,236.42 98.99,236.56 100.08,236.7 101.17,236.84 102.26,236.98 103.36,237.12 104.45,237.27 105.54,237.41 106.63,237.55 107.73,237.69 108.82,237.82 109.91,237.96 111,238.09 112.09,238.23 113.19,238.36 114.28,238.48 115.37,238.61 116.46,238.73 117.55,238.86 118.65,238.98 119.74,239.11 120.83,239.23 121.92,239.35 123.02,239.47 124.11,239.59 125.2,239.71 126.29,239.83 127.38,239.95 128.48,240.07 129.57,240.19 130.66,240.3 131.75,240.42 132.84,240.53 133.94,240.65 135.03,240.76 136.12,240.87 137.21,240.98 138.31,241.09 139.4,241.2 140.49,241.3 141.58,241.41 142.67,241.51 143.77,241.62 144.86,241.72 145.95,241.82 147.04,241.92 148.13,242.01 149.23,242.11 150.32,242.2 151.41,242.3 152.5,242.39 153.6,242.48 154.69,242.58 155.78,242.67 156.87,242.76 157.96,242.84 159.06,242.93 160.15,243.02 161.24,243.11 162.33,243.19 163.42,243.28 164.52,243.36 165.61,243.44 166.7,243.53 167.79,243.61 168.89,243.69 169.98,243.77 171.07,243.85 172.16,243.93 173.25,244 174.35,244.08 175.44,244.16 176.53,244.23 177.62,244.31 178.71,244.38 179.81,244.46 180.9,244.53 181.99,244.6 183.08,244.67 184.18,244.74 185.27,244.81 186.36,244.88 187.45,244.95 188.54,245.02 189.64,245.09 190.73,245.15 191.82,245.22 192.91,245.29 194,245.35 195.1,245.42 196.19,245.48 197.28,245.55 198.37,245.61 199.47,245.67 200.56,245.73 201.65,245.79 202.74,245.86 203.83,245.92 204.93,245.98 206.02,246.04 207.11,246.1 208.2,246.15 209.29,246.21 210.39,246.27 211.48,246.33 212.57,246.38 213.66,246.44 214.76,246.5 215.85,246.55 216.94,246.61 218.03,246.66 219.12,246.71 220.22,246.77 221.31,246.82 222.4,246.88 223.49,246.93 224.58,246.98 225.68,247.03 226.77,247.08 227.86,247.14 228.95,247.19 230.05,247.24 231.14,247.29 232.23,247.34 233.32,247.39 234.41,247.44 235.51,247.48 236.6,247.53 237.69,247.58 238.78,247.63 239.87,247.68 240.97,247.72 242.06,247.77 243.15,247.81 244.24,247.86 245.34,247.9 246.43,247.95 247.52,247.99 248.61,248.04 249.7,248.08 250.8,248.12 251.89,248.16 252.98,248.2" fill="none" stroke="#000" stroke-width="1.5" stroke-linejoin="round" stroke-dasharray="6.6 1.5 1.4 1.5"/>
<path d="M53.28 257.84V269.89M50.98 257.84h4.6M50.98 269.89h4.6M114.06 257.19V265.95M111.76 257.19h4.6M111.76 265.95h4.6M183.52 250.29V261.24M181.22 250.29h4.6M181.22 261.24h4.6M252.98 243.17V270.55M250.68 243.17h4.6M250.68 270.55h4.6" fill="none" stroke="#000" stroke-width="0.85"/>
<g fill="#000" stroke="#000" stroke-width="0.85"><circle cx="53.28" cy="263.87" r="2.25"/><circle cx="61.97" cy="261.13" r="2.25"/><circle cx="79.33" cy="256.97" r="2.25"/><circle cx="114.06" cy="261.57" r="2.25"/><circle cx="183.52" cy="255.76" r="2.25"/><circle cx="252.98" cy="256.86" r="2.25"/></g>
<path d="M53.28 216.11V248.97M50.98 216.11h4.6M50.98 248.97h4.6M79.33 228.93V234.4M77.03 228.93h4.6M77.03 234.4h4.6M252.98 226.19V229.48M250.68 226.19h4.6M250.68 229.48h4.6" fill="none" stroke="#333" stroke-width="0.85"/>
<g fill="#a0a0a0" stroke="#1a1a1a" stroke-width="1"><circle cx="53.28" cy="232.54" r="2.25"/><circle cx="61.97" cy="233.53" r="2.25"/><circle cx="79.33" cy="231.67" r="2.25"/><circle cx="114.06" cy="232.1" r="2.25"/><circle cx="183.52" cy="227.29" r="2.25"/><circle cx="252.98" cy="227.83" r="2.25"/></g>
<path d="M61.97 222.25V244.15M59.67 222.25h4.6M59.67 244.15h4.6M79.33 226.52V249.52M77.03 226.52h4.6M77.03 249.52h4.6M114.06 238.9V247.66M111.76 238.9h4.6M111.76 247.66h4.6M183.52 232.65V239.22M181.22 232.65h4.6M181.22 239.22h4.6M252.98 235.06V243.82M250.68 235.06h4.6M250.68 243.82h4.6" fill="none" stroke="#000" stroke-width="0.85"/>
<g fill="#fff" stroke="#000" stroke-width="0.85"><circle cx="44.6" cy="286.1" r="2.25"/><circle cx="53.28" cy="237.36" r="2.25"/><circle cx="61.97" cy="233.2" r="2.25"/><circle cx="79.33" cy="238.02" r="2.25"/><circle cx="114.06" cy="243.28" r="2.25"/><circle cx="183.52" cy="235.94" r="2.25"/><circle cx="252.98" cy="239.44" r="2.25"/></g>
<path d="M304 214.8 V286.1 H519.9" fill="none" stroke="#6e6e6e" stroke-width="1"/>
<path d="M304 286.1v-2.1M338.73 286.1v-2.1M373.46 286.1v-2.1M408.19 286.1v-2.1M442.92 286.1v-2.1M477.65 286.1v-2.1M512.38 286.1v-2.1M304 286.1h2.1M304 264.2h2.1M304 242.29h2.1M304 220.39h2.1" fill="none" stroke="#6e6e6e" stroke-width="0.7"/>
<g class="tk" text-anchor="middle">
<text x="304" y="295.7">0</text>
<text x="338.73" y="295.7">1</text>
<text x="373.46" y="295.7">2</text>
<text x="408.19" y="295.7">3</text>
<text x="442.92" y="295.7">4</text>
<text x="477.65" y="295.7">5</text>
<text x="512.38" y="295.7">6</text>
</g>
<g class="tk" text-anchor="end">
<text x="301.4" y="288.4">0</text>
<text x="301.4" y="266.5">2</text>
<text x="301.4" y="244.59">4</text>
<text x="301.4" y="222.69">6</text>
</g>
<polyline points="304,286.1 304.29,285.96 304.58,285.73 304.88,285.43 305.17,285.07 305.46,284.69 305.75,284.14 306.04,283.44 306.33,282.64 306.63,281.79 306.92,280.95 307.21,280.18 307.5,279.54 307.79,278.96 308.09,278.4 308.38,277.86 308.67,277.34 308.96,276.85 309.25,276.37 309.55,275.91 309.84,275.48 310.13,275.06 310.42,274.67 310.71,274.29 311,273.92 311.3,273.56 311.59,273.21 311.88,272.88 312.17,272.56 312.46,272.27 312.76,272 313.05,271.75 313.34,271.54 313.63,271.34 313.92,271.14 314.21,270.95 314.51,270.77 314.8,270.59 315.09,270.43 315.38,270.27 315.67,270.12 315.97,269.99 316.26,269.87 316.55,269.76 316.84,269.67 317.13,269.6 317.43,269.54 317.72,269.48 318.01,269.43 318.3,269.38 318.59,269.34 318.88,269.29 319.18,269.25 319.47,269.21 319.76,269.18 320.05,269.14 320.34,269.11 320.64,269.08 320.93,269.06 321.22,269.04 321.51,269.02 321.8,269 322.09,268.99 322.39,268.97 322.68,268.96 322.97,268.95 323.26,268.94 323.55,268.93 323.85,268.92 324.14,268.91 324.43,268.9 324.72,268.89 325.01,268.88 325.3,268.87 325.6,268.86 325.89,268.85 326.18,268.85 326.47,268.84 326.76,268.83 327.06,268.83 327.35,268.82 327.64,268.82 327.93,268.81 328.22,268.81 328.52,268.8 328.81,268.8 329.1,268.8 329.39,268.8 329.68,268.8 329.97,268.8 330.27,268.8 330.56,268.8 330.85,268.8 331.14,268.8 331.43,268.8 331.73,268.8 332.02,268.8 332.31,268.8 332.6,268.8 332.89,268.8 333.18,268.8 333.48,268.8 333.77,268.8 334.06,268.8 334.35,268.8 334.64,268.8 334.94,268.8 335.23,268.8 335.52,268.8 335.81,268.8 336.1,268.8 336.4,268.8 336.69,268.8 336.98,268.8 337.27,268.8 337.56,268.8 337.85,268.8 338.15,268.8 338.44,268.8 338.73,268.8 339.82,268.8 340.91,268.8 342.01,268.8 343.1,268.8 344.19,268.8 345.28,268.8 346.37,268.8 347.47,268.8 348.56,268.8 349.65,268.8 350.74,268.8 351.84,268.8 352.93,268.8 354.02,268.8 355.11,268.8 356.2,268.8 357.3,268.8 358.39,268.8 359.48,268.8 360.57,268.8 361.66,268.8 362.76,268.8 363.85,268.8 364.94,268.8 366.03,268.8 367.13,268.8 368.22,268.8 369.31,268.8 370.4,268.8 371.49,268.8 372.59,268.8 373.68,268.8 374.77,268.8 375.86,268.8 376.95,268.8 378.05,268.8 379.14,268.8 380.23,268.8 381.32,268.8 382.42,268.8 383.51,268.8 384.6,268.8 385.69,268.8 386.78,268.8 387.88,268.8 388.97,268.8 390.06,268.8 391.15,268.8 392.24,268.8 393.34,268.8 394.43,268.8 395.52,268.8 396.61,268.8 397.71,268.8 398.8,268.8 399.89,268.8 400.98,268.8 402.07,268.8 403.17,268.8 404.26,268.8 405.35,268.8 406.44,268.8 407.53,268.8 408.63,268.8 409.72,268.8 410.81,268.8 411.9,268.8 413,268.8 414.09,268.8 415.18,268.8 416.27,268.8 417.36,268.8 418.46,268.8 419.55,268.8 420.64,268.8 421.73,268.8 422.82,268.8 423.92,268.8 425.01,268.8 426.1,268.8 427.19,268.8 428.29,268.8 429.38,268.8 430.47,268.8 431.56,268.8 432.65,268.8 433.75,268.8 434.84,268.8 435.93,268.8 437.02,268.8 438.11,268.8 439.21,268.8 440.3,268.8 441.39,268.8 442.48,268.8 443.58,268.8 444.67,268.8 445.76,268.8 446.85,268.8 447.94,268.8 449.04,268.8 450.13,268.8 451.22,268.8 452.31,268.8 453.4,268.8 454.5,268.8 455.59,268.8 456.68,268.8 457.77,268.8 458.87,268.8 459.96,268.8 461.05,268.8 462.14,268.8 463.23,268.8 464.33,268.8 465.42,268.8 466.51,268.8 467.6,268.8 468.69,268.8 469.79,268.8 470.88,268.8 471.97,268.8 473.06,268.8 474.16,268.8 475.25,268.8 476.34,268.8 477.43,268.8 478.52,268.8 479.62,268.8 480.71,268.8 481.8,268.8 482.89,268.8 483.98,268.8 485.08,268.8 486.17,268.8 487.26,268.8 488.35,268.8 489.45,268.8 490.54,268.8 491.63,268.8 492.72,268.8 493.81,268.8 494.91,268.8 496,268.8 497.09,268.8 498.18,268.8 499.27,268.8 500.37,268.8 501.46,268.8 502.55,268.8 503.64,268.8 504.74,268.8 505.83,268.8 506.92,268.8 508.01,268.8 509.1,268.8 510.2,268.8 511.29,268.8 512.38,268.8" fill="none" stroke="#000" stroke-width="1.5" stroke-linejoin="round"/>
<g fill="#000" stroke="#000" stroke-width="0.85"><circle cx="312.68" cy="267.48" r="2.25"/><circle cx="321.37" cy="273.72" r="2.25"/><circle cx="338.73" cy="271.97" r="2.25"/><circle cx="373.46" cy="270.77" r="2.25"/><circle cx="442.92" cy="271.53" r="2.25"/><circle cx="512.38" cy="269.67" r="2.25"/></g>
<path d="M321.37 262.66V271.86M319.06 262.66h4.6M319.06 271.86h4.6M512.38 263.98V270.55M510.08 263.98h4.6M510.08 270.55h4.6" fill="none" stroke="#333" stroke-width="0.85"/>
<g fill="#a0a0a0" stroke="#1a1a1a" stroke-width="1"><circle cx="312.68" cy="265.84" r="2.25"/><circle cx="321.37" cy="267.26" r="2.25"/><circle cx="338.73" cy="263.87" r="2.25"/><circle cx="373.46" cy="271.97" r="2.25"/><circle cx="442.92" cy="266.39" r="2.25"/><circle cx="512.38" cy="267.26" r="2.25"/></g>
<g fill="#fff" stroke="#000" stroke-width="0.85"><circle cx="304" cy="286.1" r="2.25"/><circle cx="312.68" cy="269.01" r="2.25"/><circle cx="321.37" cy="270.22" r="2.25"/><circle cx="338.73" cy="269.56" r="2.25"/><circle cx="373.46" cy="268.8" r="2.25"/><circle cx="442.92" cy="265.95" r="2.25"/><circle cx="512.38" cy="268.69" r="2.25"/></g>
<path d="M44.6 314.15 V385.45 H260.5" fill="none" stroke="#6e6e6e" stroke-width="1"/>
<path d="M44.6 385.45v-2.1M79.33 385.45v-2.1M114.06 385.45v-2.1M148.79 385.45v-2.1M183.52 385.45v-2.1M218.25 385.45v-2.1M252.98 385.45v-2.1M44.6 385.45h2.1M44.6 349.8h2.1M44.6 314.15h2.1" fill="none" stroke="#6e6e6e" stroke-width="0.7"/>
<g class="tk" text-anchor="middle">
<text x="44.6" y="395.05">0</text>
<text x="79.33" y="395.05">1</text>
<text x="114.06" y="395.05">2</text>
<text x="148.79" y="395.05">3</text>
<text x="183.52" y="395.05">4</text>
<text x="218.25" y="395.05">5</text>
<text x="252.98" y="395.05">6</text>
</g>
<g class="tk" text-anchor="end">
<text x="42" y="387.75">0</text>
<text x="42" y="352.1">0.05</text>
<text x="42" y="316.45">0.1</text>
</g>
<polyline points="44.6,385.45 44.89,385.09 45.18,384.57 45.48,383.94 45.77,383.2 46.06,382.39 46.35,381.33 46.64,380.02 46.93,378.54 47.23,376.98 47.52,375.43 47.81,373.98 48.1,372.67 48.39,371.36 48.69,370.04 48.98,368.75 49.27,367.55 49.56,366.48 49.85,365.59 50.15,364.87 50.44,364.22 50.73,363.63 51.02,363.1 51.31,362.62 51.6,362.22 51.9,361.88 52.19,361.59 52.48,361.33 52.77,361.08 53.06,360.85 53.36,360.63 53.65,360.44 53.94,360.27 54.23,360.12 54.52,359.99 54.81,359.88 55.11,359.78 55.4,359.69 55.69,359.61 55.98,359.53 56.27,359.45 56.57,359.38 56.86,359.31 57.15,359.25 57.44,359.19 57.73,359.14 58.03,359.09 58.32,359.04 58.61,359 58.9,358.96 59.19,358.92 59.48,358.89 59.78,358.86 60.07,358.83 60.36,358.81 60.65,358.78 60.94,358.76 61.24,358.73 61.53,358.71 61.82,358.68 62.11,358.66 62.4,358.64 62.69,358.62 62.99,358.6 63.28,358.58 63.57,358.56 63.86,358.54 64.15,358.52 64.45,358.5 64.74,358.49 65.03,358.47 65.32,358.45 65.61,358.43 65.9,358.42 66.2,358.4 66.49,358.39 66.78,358.37 67.07,358.36 67.36,358.34 67.66,358.33 67.95,358.32 68.24,358.3 68.53,358.29 68.82,358.28 69.12,358.26 69.41,358.25 69.7,358.24 69.99,358.23 70.28,358.22 70.57,358.2 70.87,358.19 71.16,358.18 71.45,358.17 71.74,358.16 72.03,358.15 72.33,358.14 72.62,358.13 72.91,358.11 73.2,358.1 73.49,358.09 73.78,358.08 74.08,358.07 74.37,358.06 74.66,358.05 74.95,358.04 75.24,358.03 75.54,358.02 75.83,358.01 76.12,357.99 76.41,357.98 76.7,357.97 77,357.96 77.29,357.95 77.58,357.93 77.87,357.92 78.16,357.91 78.45,357.9 78.75,357.88 79.04,357.87 79.33,357.86 80.42,357.81 81.51,357.76 82.61,357.71 83.7,357.66 84.79,357.61 85.88,357.56 86.97,357.52 88.07,357.47 89.16,357.42 90.25,357.38 91.34,357.33 92.44,357.29 93.53,357.24 94.62,357.2 95.71,357.15 96.8,357.11 97.9,357.06 98.99,357.02 100.08,356.97 101.17,356.93 102.26,356.88 103.36,356.84 104.45,356.79 105.54,356.75 106.63,356.7 107.73,356.65 108.82,356.6 109.91,356.55 111,356.5 112.09,356.45 113.19,356.4 114.28,356.35 115.37,356.3 116.46,356.24 117.55,356.19 118.65,356.14 119.74,356.08 120.83,356.03 121.92,355.97 123.02,355.92 124.11,355.86 125.2,355.8 126.29,355.75 127.38,355.69 128.48,355.63 129.57,355.58 130.66,355.52 131.75,355.46 132.84,355.4 133.94,355.34 135.03,355.28 136.12,355.23 137.21,355.17 138.31,355.11 139.4,355.05 140.49,354.99 141.58,354.93 142.67,354.86 143.77,354.8 144.86,354.74 145.95,354.68 147.04,354.62 148.13,354.56 149.23,354.49 150.32,354.43 151.41,354.37 152.5,354.31 153.6,354.24 154.69,354.18 155.78,354.11 156.87,354.05 157.96,353.99 159.06,353.92 160.15,353.86 161.24,353.79 162.33,353.73 163.42,353.66 164.52,353.6 165.61,353.53 166.7,353.47 167.79,353.4 168.89,353.34 169.98,353.27 171.07,353.2 172.16,353.14 173.25,353.07 174.35,353 175.44,352.94 176.53,352.87 177.62,352.8 178.71,352.74 179.81,352.67 180.9,352.6 181.99,352.53 183.08,352.47 184.18,352.4 185.27,352.33 186.36,352.26 187.45,352.19 188.54,352.12 189.64,352.05 190.73,351.99 191.82,351.92 192.91,351.85 194,351.78 195.1,351.71 196.19,351.64 197.28,351.57 198.37,351.49 199.47,351.42 200.56,351.35 201.65,351.28 202.74,351.21 203.83,351.14 204.93,351.06 206.02,350.99 207.11,350.92 208.2,350.84 209.29,350.77 210.39,350.7 211.48,350.62 212.57,350.55 213.66,350.48 214.76,350.4 215.85,350.33 216.94,350.25 218.03,350.18 219.12,350.1 220.22,350.03 221.31,349.95 222.4,349.87 223.49,349.8 224.58,349.72 225.68,349.64 226.77,349.57 227.86,349.49 228.95,349.41 230.05,349.34 231.14,349.26 232.23,349.18 233.32,349.1 234.41,349.02 235.51,348.95 236.6,348.87 237.69,348.79 238.78,348.71 239.87,348.63 240.97,348.55 242.06,348.47 243.15,348.39 244.24,348.31 245.34,348.23 246.43,348.15 247.52,348.07 248.61,347.99 249.7,347.91 250.8,347.82 251.89,347.74 252.98,347.66" fill="none" stroke="#000" stroke-width="1.5" stroke-linejoin="round"/>
<polyline points="44.6,385.45 44.89,385.04 45.18,384.4 45.48,383.6 45.77,382.66 46.06,381.63 46.35,380.37 46.64,378.85 46.93,377.08 47.23,375.1 47.52,372.93 47.81,370.59 48.1,368 48.39,364.53 48.69,360.46 48.98,356.3 49.27,352.52 49.56,349.62 49.85,347.45 50.15,345.5 50.44,343.82 50.73,342.45 51.02,341.42 51.31,340.55 51.6,339.78 51.9,339.11 52.19,338.51 52.48,338 52.77,337.57 53.06,337.19 53.36,336.84 53.65,336.52 53.94,336.22 54.23,335.94 54.52,335.69 54.81,335.46 55.11,335.26 55.4,335.07 55.69,334.91 55.98,334.77 56.27,334.63 56.57,334.51 56.86,334.4 57.15,334.29 57.44,334.19 57.73,334.1 58.03,334.01 58.32,333.92 58.61,333.84 58.9,333.77 59.19,333.69 59.48,333.62 59.78,333.55 60.07,333.48 60.36,333.41 60.65,333.35 60.94,333.28 61.24,333.21 61.53,333.15 61.82,333.08 62.11,333.02 62.4,332.96 62.69,332.89 62.99,332.83 63.28,332.77 63.57,332.71 63.86,332.65 64.15,332.6 64.45,332.54 64.74,332.48 65.03,332.43 65.32,332.37 65.61,332.32 65.9,332.26 66.2,332.21 66.49,332.16 66.78,332.11 67.07,332.05 67.36,332 67.66,331.95 67.95,331.9 68.24,331.85 68.53,331.81 68.82,331.76 69.12,331.71 69.41,331.66 69.7,331.62 69.99,331.57 70.28,331.52 70.57,331.48 70.87,331.43 71.16,331.39 71.45,331.34 71.74,331.3 72.03,331.25 72.33,331.21 72.62,331.17 72.91,331.12 73.2,331.08 73.49,331.04 73.78,330.99 74.08,330.95 74.37,330.91 74.66,330.87 74.95,330.82 75.24,330.78 75.54,330.74 75.83,330.7 76.12,330.65 76.41,330.61 76.7,330.57 77,330.53 77.29,330.49 77.58,330.45 77.87,330.4 78.16,330.36 78.45,330.32 78.75,330.28 79.04,330.23 79.33,330.19 80.42,330.03 81.51,329.88 82.61,329.72 83.7,329.57 84.79,329.42 85.88,329.28 86.97,329.13 88.07,328.99 89.16,328.84 90.25,328.7 91.34,328.56 92.44,328.43 93.53,328.29 94.62,328.15 95.71,328.02 96.8,327.89 97.9,327.76 98.99,327.63 100.08,327.5 101.17,327.37 102.26,327.24 103.36,327.12 104.45,326.99 105.54,326.87 106.63,326.74 107.73,326.62 108.82,326.5 109.91,326.38 111,326.25 112.09,326.13 113.19,326.01 114.28,325.89 115.37,325.77 116.46,325.64 117.55,325.51 118.65,325.38 119.74,325.25 120.83,325.12 121.92,324.99 123.02,324.87 124.11,324.75 125.2,324.63 126.29,324.52 127.38,324.42 128.48,324.33 129.57,324.25 130.66,324.18 131.75,324.11 132.84,324.06 133.94,324 135.03,323.95 136.12,323.89 137.21,323.84 138.31,323.79 139.4,323.74 140.49,323.7 141.58,323.65 142.67,323.62 143.77,323.58 144.86,323.55 145.95,323.53 147.04,323.51 148.13,323.5 149.23,323.49 150.32,323.49 151.41,323.5 152.5,323.51 153.6,323.53 154.69,323.56 155.78,323.59 156.87,323.62 157.96,323.67 159.06,323.71 160.15,323.76 161.24,323.82 162.33,323.88 163.42,323.94 164.52,324.01 165.61,324.08 166.7,324.15 167.79,324.23 168.89,324.31 169.98,324.39 171.07,324.47 172.16,324.55 173.25,324.63 174.35,324.72 175.44,324.8 176.53,324.89 177.62,324.97 178.71,325.06 179.81,325.14 180.9,325.22 181.99,325.3 183.08,325.38 184.18,325.46 185.27,325.54 186.36,325.63 187.45,325.72 188.54,325.81 189.64,325.9 190.73,326 191.82,326.1 192.91,326.2 194,326.3 195.1,326.4 196.19,326.51 197.28,326.62 198.37,326.72 199.47,326.83 200.56,326.95 201.65,327.06 202.74,327.17 203.83,327.28 204.93,327.4 206.02,327.51 207.11,327.63 208.2,327.74 209.29,327.85 210.39,327.97 211.48,328.08 212.57,328.2 213.66,328.31 214.76,328.42 215.85,328.53 216.94,328.64 218.03,328.75 219.12,328.85 220.22,328.96 221.31,329.06 222.4,329.17 223.49,329.28 224.58,329.39 225.68,329.49 226.77,329.6 227.86,329.71 228.95,329.81 230.05,329.92 231.14,330.03 232.23,330.14 233.32,330.24 234.41,330.35 235.51,330.46 236.6,330.57 237.69,330.67 238.78,330.78 239.87,330.89 240.97,331 242.06,331.1 243.15,331.21 244.24,331.32 245.34,331.43 246.43,331.54 247.52,331.65 248.61,331.75 249.7,331.86 250.8,331.97 251.89,332.08 252.98,332.19" fill="none" stroke="#7d7d7d" stroke-width="1.7" stroke-linejoin="round"/>
<polyline points="44.6,385.45 44.89,385.04 45.18,384.4 45.48,383.6 45.77,382.66 46.06,381.63 46.35,380.37 46.64,378.83 46.93,377.06 47.23,375.07 47.52,372.9 47.81,370.58 48.1,368.02 48.39,364.58 48.69,360.58 48.98,356.51 49.27,352.88 49.56,350.19 49.85,348.22 50.15,346.46 50.44,344.97 50.73,343.87 51.02,343.19 51.31,342.69 51.6,342.27 51.9,341.91 52.19,341.61 52.48,341.37 52.77,341.17 53.06,341.01 53.36,340.87 53.65,340.73 53.94,340.6 54.23,340.48 54.52,340.38 54.81,340.29 55.11,340.21 55.4,340.16 55.69,340.12 55.98,340.09 56.27,340.08 56.57,340.06 56.86,340.04 57.15,340.03 57.44,340.01 57.73,340 58.03,339.99 58.32,339.98 58.61,339.97 58.9,339.97 59.19,339.96 59.48,339.96 59.78,339.96 60.07,339.96 60.36,339.96 60.65,339.96 60.94,339.97 61.24,339.97 61.53,339.97 61.82,339.98 62.11,339.98 62.4,339.99 62.69,340 62.99,340 63.28,340.01 63.57,340.02 63.86,340.03 64.15,340.04 64.45,340.05 64.74,340.06 65.03,340.07 65.32,340.08 65.61,340.09 65.9,340.1 66.2,340.12 66.49,340.13 66.78,340.14 67.07,340.16 67.36,340.17 67.66,340.19 67.95,340.2 68.24,340.22 68.53,340.23 68.82,340.25 69.12,340.26 69.41,340.28 69.7,340.3 69.99,340.31 70.28,340.33 70.57,340.35 70.87,340.37 71.16,340.38 71.45,340.4 71.74,340.42 72.03,340.44 72.33,340.46 72.62,340.48 72.91,340.49 73.2,340.51 73.49,340.53 73.78,340.55 74.08,340.57 74.37,340.59 74.66,340.61 74.95,340.62 75.24,340.64 75.54,340.66 75.83,340.68 76.12,340.7 76.41,340.72 76.7,340.73 77,340.75 77.29,340.77 77.58,340.79 77.87,340.8 78.16,340.82 78.45,340.84 78.75,340.85 79.04,340.87 79.33,340.89 80.42,340.95 81.51,341.01 82.61,341.08 83.7,341.15 84.79,341.22 85.88,341.29 86.97,341.36 88.07,341.44 89.16,341.51 90.25,341.59 91.34,341.67 92.44,341.75 93.53,341.83 94.62,341.91 95.71,341.99 96.8,342.07 97.9,342.15 98.99,342.23 100.08,342.31 101.17,342.39 102.26,342.47 103.36,342.55 104.45,342.63 105.54,342.7 106.63,342.78 107.73,342.85 108.82,342.92 109.91,342.99 111,343.06 112.09,343.13 113.19,343.19 114.28,343.25 115.37,343.31 116.46,343.37 117.55,343.43 118.65,343.49 119.74,343.55 120.83,343.61 121.92,343.67 123.02,343.73 124.11,343.79 125.2,343.85 126.29,343.91 127.38,343.96 128.48,344.02 129.57,344.08 130.66,344.14 131.75,344.19 132.84,344.25 133.94,344.31 135.03,344.36 136.12,344.42 137.21,344.47 138.31,344.53 139.4,344.58 140.49,344.64 141.58,344.69 142.67,344.75 143.77,344.8 144.86,344.85 145.95,344.9 147.04,344.95 148.13,345.01 149.23,345.06 150.32,345.11 151.41,345.16 152.5,345.21 153.6,345.26 154.69,345.3 155.78,345.35 156.87,345.4 157.96,345.45 159.06,345.49 160.15,345.54 161.24,345.59 162.33,345.63 163.42,345.67 164.52,345.72 165.61,345.76 166.7,345.8 167.79,345.85 168.89,345.89 169.98,345.93 171.07,345.97 172.16,346.01 173.25,346.05 174.35,346.08 175.44,346.12 176.53,346.16 177.62,346.19 178.71,346.23 179.81,346.26 180.9,346.3 181.99,346.33 183.08,346.36 184.18,346.4 185.27,346.43 186.36,346.46 187.45,346.49 188.54,346.52 189.64,346.55 190.73,346.59 191.82,346.62 192.91,346.65 194,346.68 195.1,346.71 196.19,346.74 197.28,346.77 198.37,346.8 199.47,346.83 200.56,346.86 201.65,346.89 202.74,346.91 203.83,346.94 204.93,346.97 206.02,347 207.11,347.03 208.2,347.05 209.29,347.08 210.39,347.11 211.48,347.14 212.57,347.16 213.66,347.19 214.76,347.21 215.85,347.24 216.94,347.27 218.03,347.29 219.12,347.31 220.22,347.34 221.31,347.36 222.4,347.39 223.49,347.41 224.58,347.43 225.68,347.45 226.77,347.48 227.86,347.5 228.95,347.52 230.05,347.54 231.14,347.56 232.23,347.58 233.32,347.6 234.41,347.62 235.51,347.64 236.6,347.66 237.69,347.68 238.78,347.69 239.87,347.71 240.97,347.73 242.06,347.74 243.15,347.76 244.24,347.77 245.34,347.79 246.43,347.8 247.52,347.81 248.61,347.83 249.7,347.84 250.8,347.85 251.89,347.86 252.98,347.87" fill="none" stroke="#000" stroke-width="1.5" stroke-linejoin="round" stroke-dasharray="6.6 1.5 1.4 1.5"/>
<path d="M53.28 354.86V361.99M50.98 354.86h4.6M50.98 361.99h4.6M61.97 353.15V359.57M59.67 353.15h4.6M59.67 359.57h4.6M79.33 347.23V361.21M77.03 347.23h4.6M77.03 361.21h4.6M252.98 346.16V355M250.68 346.16h4.6M250.68 355h4.6" fill="none" stroke="#000" stroke-width="0.85"/>
<g fill="#000" stroke="#000" stroke-width="0.85"><circle cx="53.28" cy="358.43" r="2.25"/><circle cx="61.97" cy="356.36" r="2.25"/><circle cx="79.33" cy="354.22" r="2.25"/><circle cx="114.06" cy="353.79" r="2.25"/><circle cx="183.52" cy="353.29" r="2.25"/><circle cx="252.98" cy="350.58" r="2.25"/></g>
<path d="M79.33 325.99V328.84M77.03 325.99h4.6M77.03 328.84h4.6M252.98 321.92V326.2M250.68 321.92h4.6M250.68 326.2h4.6" fill="none" stroke="#333" stroke-width="0.85"/>
<g fill="#a0a0a0" stroke="#1a1a1a" stroke-width="1"><circle cx="53.28" cy="328.91" r="2.25"/><circle cx="61.97" cy="329.34" r="2.25"/><circle cx="79.33" cy="327.41" r="2.25"/><circle cx="114.06" cy="328.41" r="2.25"/><circle cx="183.52" cy="324.06" r="2.25"/><circle cx="252.98" cy="324.06" r="2.25"/></g>
<path d="M79.33 342.6V349.02M77.03 342.6h4.6M77.03 349.02h4.6" fill="none" stroke="#000" stroke-width="0.85"/>
<g fill="#fff" stroke="#000" stroke-width="0.85"><circle cx="44.6" cy="385.45" r="2.25"/><circle cx="53.28" cy="343.67" r="2.25"/><circle cx="61.97" cy="346.88" r="2.25"/><circle cx="79.33" cy="345.81" r="2.25"/><circle cx="114.06" cy="344.1" r="2.25"/><circle cx="183.52" cy="344.31" r="2.25"/><circle cx="252.98" cy="342.46" r="2.25"/></g>
<path d="M304 314.15 V385.45 H519.9" fill="none" stroke="#6e6e6e" stroke-width="1"/>
<path d="M304 385.45v-2.1M338.73 385.45v-2.1M373.46 385.45v-2.1M408.19 385.45v-2.1M442.92 385.45v-2.1M477.65 385.45v-2.1M512.38 385.45v-2.1M304 385.45h2.1M304 349.8h2.1M304 314.15h2.1" fill="none" stroke="#6e6e6e" stroke-width="0.7"/>
<g class="tk" text-anchor="middle">
<text x="304" y="395.05">0</text>
<text x="338.73" y="395.05">1</text>
<text x="373.46" y="395.05">2</text>
<text x="408.19" y="395.05">3</text>
<text x="442.92" y="395.05">4</text>
<text x="477.65" y="395.05">5</text>
<text x="512.38" y="395.05">6</text>
</g>
<g class="tk" text-anchor="end">
<text x="301.4" y="387.75">0</text>
<text x="301.4" y="352.1">0.05</text>
<text x="301.4" y="316.45">0.1</text>
</g>
<polyline points="304,385.45 304.29,384.92 304.58,384.26 304.88,383.48 305.17,382.61 305.46,381.64 305.75,380.44 306.04,379 306.33,377.41 306.63,375.77 306.92,374.15 307.21,372.64 307.5,371.31 307.79,370 308.09,368.7 308.38,367.46 308.67,366.29 308.96,365.23 309.25,364.32 309.55,363.55 309.84,362.85 310.13,362.2 310.42,361.61 310.71,361.08 311,360.6 311.3,360.18 311.59,359.8 311.88,359.44 312.17,359.1 312.46,358.77 312.76,358.47 313.05,358.19 313.34,357.94 313.63,357.71 313.92,357.5 314.21,357.32 314.51,357.16 314.8,357.01 315.09,356.86 315.38,356.71 315.67,356.57 315.97,356.44 316.26,356.31 316.55,356.19 316.84,356.08 317.13,355.97 317.43,355.88 317.72,355.79 318.01,355.71 318.3,355.65 318.59,355.59 318.88,355.54 319.18,355.51 319.47,355.48 319.76,355.45 320.05,355.43 320.34,355.4 320.64,355.38 320.93,355.36 321.22,355.34 321.51,355.31 321.8,355.29 322.09,355.27 322.39,355.25 322.68,355.23 322.97,355.22 323.26,355.2 323.55,355.18 323.85,355.16 324.14,355.15 324.43,355.13 324.72,355.12 325.01,355.1 325.3,355.09 325.6,355.07 325.89,355.06 326.18,355.05 326.47,355.03 326.76,355.02 327.06,355.01 327.35,355 327.64,354.99 327.93,354.98 328.22,354.97 328.52,354.96 328.81,354.95 329.1,354.94 329.39,354.93 329.68,354.92 329.97,354.91 330.27,354.9 330.56,354.89 330.85,354.88 331.14,354.87 331.43,354.86 331.73,354.86 332.02,354.85 332.31,354.84 332.6,354.83 332.89,354.82 333.18,354.82 333.48,354.81 333.77,354.8 334.06,354.79 334.35,354.78 334.64,354.78 334.94,354.77 335.23,354.76 335.52,354.75 335.81,354.74 336.1,354.73 336.4,354.73 336.69,354.72 336.98,354.71 337.27,354.7 337.56,354.69 337.85,354.68 338.15,354.67 338.44,354.66 338.73,354.65 339.82,354.61 340.91,354.57 342.01,354.53 343.1,354.49 344.19,354.46 345.28,354.42 346.37,354.39 347.47,354.35 348.56,354.32 349.65,354.28 350.74,354.25 351.84,354.22 352.93,354.18 354.02,354.15 355.11,354.12 356.2,354.09 357.3,354.05 358.39,354.02 359.48,353.99 360.57,353.96 361.66,353.93 362.76,353.9 363.85,353.87 364.94,353.83 366.03,353.8 367.13,353.77 368.22,353.74 369.31,353.71 370.4,353.67 371.49,353.64 372.59,353.61 373.68,353.57 374.77,353.54 375.86,353.5 376.95,353.47 378.05,353.44 379.14,353.4 380.23,353.37 381.32,353.34 382.42,353.3 383.51,353.27 384.6,353.24 385.69,353.2 386.78,353.17 387.88,353.13 388.97,353.1 390.06,353.07 391.15,353.04 392.24,353 393.34,352.97 394.43,352.94 395.52,352.9 396.61,352.87 397.71,352.84 398.8,352.8 399.89,352.77 400.98,352.74 402.07,352.7 403.17,352.67 404.26,352.64 405.35,352.6 406.44,352.57 407.53,352.53 408.63,352.5 409.72,352.47 410.81,352.43 411.9,352.4 413,352.36 414.09,352.33 415.18,352.3 416.27,352.26 417.36,352.23 418.46,352.19 419.55,352.16 420.64,352.12 421.73,352.09 422.82,352.05 423.92,352.02 425.01,351.98 426.1,351.94 427.19,351.91 428.29,351.87 429.38,351.84 430.47,351.8 431.56,351.76 432.65,351.73 433.75,351.69 434.84,351.65 435.93,351.61 437.02,351.58 438.11,351.54 439.21,351.5 440.3,351.46 441.39,351.42 442.48,351.38 443.58,351.35 444.67,351.31 445.76,351.27 446.85,351.23 447.94,351.19 449.04,351.15 450.13,351.11 451.22,351.07 452.31,351.02 453.4,350.98 454.5,350.94 455.59,350.9 456.68,350.86 457.77,350.82 458.87,350.78 459.96,350.73 461.05,350.69 462.14,350.65 463.23,350.61 464.33,350.56 465.42,350.52 466.51,350.48 467.6,350.43 468.69,350.39 469.79,350.35 470.88,350.3 471.97,350.26 473.06,350.22 474.16,350.17 475.25,350.13 476.34,350.08 477.43,350.04 478.52,349.99 479.62,349.95 480.71,349.9 481.8,349.86 482.89,349.81 483.98,349.76 485.08,349.72 486.17,349.67 487.26,349.63 488.35,349.58 489.45,349.53 490.54,349.49 491.63,349.44 492.72,349.39 493.81,349.34 494.91,349.3 496,349.25 497.09,349.2 498.18,349.15 499.27,349.11 500.37,349.06 501.46,349.01 502.55,348.96 503.64,348.91 504.74,348.86 505.83,348.81 506.92,348.76 508.01,348.72 509.1,348.67 510.2,348.62 511.29,348.57 512.38,348.52" fill="none" stroke="#000" stroke-width="1.5" stroke-linejoin="round"/>
<path d="M373.46 353.94V359.92M371.16 353.94h4.6M371.16 359.92h4.6" fill="none" stroke="#000" stroke-width="0.85"/>
<g fill="#000" stroke="#000" stroke-width="0.85"><circle cx="312.68" cy="359.07" r="2.25"/><circle cx="321.37" cy="361.21" r="2.25"/><circle cx="338.73" cy="360.14" r="2.25"/><circle cx="373.46" cy="356.93" r="2.25"/><circle cx="442.92" cy="353.01" r="2.25"/><circle cx="512.38" cy="350.51" r="2.25"/></g>
<path d="M512.38 347.66V350.51M510.08 347.66h4.6M510.08 350.51h4.6" fill="none" stroke="#333" stroke-width="0.85"/>
<g fill="#a0a0a0" stroke="#1a1a1a" stroke-width="1"><circle cx="312.68" cy="358.86" r="2.25"/><circle cx="321.37" cy="356.22" r="2.25"/><circle cx="338.73" cy="353.58" r="2.25"/><circle cx="373.46" cy="353.58" r="2.25"/><circle cx="442.92" cy="352.65" r="2.25"/><circle cx="512.38" cy="349.09" r="2.25"/></g>
<path d="M312.68 349.59V357.57M310.38 349.59h4.6M310.38 357.57h4.6M338.73 338.82V356.07M336.43 338.82h4.6M336.43 356.07h4.6M373.46 344.74V354.43M371.16 344.74h4.6M371.16 354.43h4.6M442.92 342.1V352.37M440.62 342.1h4.6M440.62 352.37h4.6M512.38 337.61V348.45M510.08 337.61h4.6M510.08 348.45h4.6" fill="none" stroke="#000" stroke-width="0.85"/>
<g fill="#fff" stroke="#000" stroke-width="0.85"><circle cx="304" cy="385.45" r="2.25"/><circle cx="312.68" cy="353.58" r="2.25"/><circle cx="321.37" cy="354.65" r="2.25"/><circle cx="338.73" cy="347.45" r="2.25"/><circle cx="373.46" cy="349.59" r="2.25"/><circle cx="442.92" cy="347.23" r="2.25"/><circle cx="512.38" cy="343.03" r="2.25"/></g>
<text class="tk" x="45.6" y="213.1">×<tspan dx="1.0">10</tspan><tspan font-size="5" dy="-2.9">-5</tspan></text>
<text class="tk" x="305" y="213.1">×<tspan dx="1.0">10</tspan><tspan font-size="5" dy="-2.9">-5</tspan></text>
<rect x="210.2" y="39.9" width="43.7" height="24.6" fill="#fff" stroke="#262626" stroke-width="0.6"/>
<circle cx="224.4" cy="44.7" r="2.25" fill="#000" stroke="#000" stroke-width="0.85"/>
<text class="lg" x="236.7" y="46.75">CT2</text>
<circle cx="224.4" cy="52.2" r="2.25" fill="#a0a0a0" stroke="#1a1a1a" stroke-width="1"/>
<text class="lg" x="236.7" y="54.25">CT14</text>
<circle cx="224.4" cy="59.7" r="2.25" fill="#fff" stroke="#000" stroke-width="0.85"/>
<text class="lg" x="236.7" y="61.75">CT20</text>
<text class="ti" x="152.2" y="12">siRNA control</text>
<text class="ti" x="411.3" y="12">siRNA Bmal1</text>
<text class="xl" x="152.3" y="404.9">Time (h)</text>
<text class="xl" x="412.3" y="404.9">Time (h)</text>
<text class="pl" x="2.15" y="11.5">A</text>
<text class="pl" x="278.3" y="11.7">B</text>
<text class="pl" x="2" y="108.1">C</text>
<text class="pl" x="278.3" y="108.1">D</text>
<text class="pl" x="2.1" y="208.4">E</text>
<text class="pl" x="278.3" y="208.4">F</text>
<text class="pl" x="2" y="308.8">G</text>
<text class="pl" x="278" y="308.8">H</text>
<text class="yl" transform="translate(14.8 53.5) rotate(-90)">Extracellular</text>
<text class="yl" transform="translate(24.2 53.2) rotate(-90)">irinotecan (µmol/L)</text>
<text class="yl" transform="translate(14.8 152.7) rotate(-90)">Intracellular</text>
<text class="yl" transform="translate(24.2 152.4) rotate(-90)">irinotecan (µmol/L)</text>
<text class="yl" transform="translate(14.8 251) rotate(-90)">Extracellular</text>
<text class="yl" transform="translate(24.2 251.6) rotate(-90)">SN38 (µmol/L)</text>
<text class="yl" transform="translate(14.8 351.9) rotate(-90)">Total intracellular</text>
<text class="yl" transform="translate(24.2 351.6) rotate(-90)">SN38 (µmol/L)</text>
</svg>
</body>
</html>
